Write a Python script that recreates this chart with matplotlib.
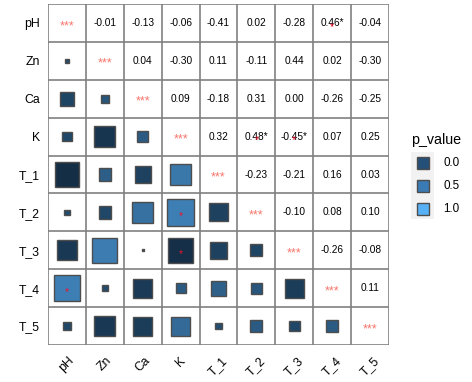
import numpy as np
import matplotlib.pyplot as plt
from matplotlib.colors import LinearSegmentedColormap
from matplotlib.patches import Rectangle

plt.rcParams['font.family'] = ['Liberation Sans', 'DejaVu Sans']

labels = ["pH", "Zn", "Ca", "K", "T_1", "T_2", "T_3", "T_4", "T_5"]

# correlation, upper triangle by row (pairs i<j)
r_upper = [
    [-0.01, -0.13, -0.06, -0.41, 0.02, -0.28, 0.46, -0.04],
    [0.04, -0.30, 0.11, -0.11, 0.44, 0.02, -0.30],
    [0.09, -0.18, 0.31, 0.003, -0.26, -0.25],
    [0.32, 0.48, -0.45, 0.07, 0.25],
    [-0.23, -0.21, 0.16, 0.03],
    [-0.10, 0.08, 0.10],
    [-0.26, -0.08],
    [0.11],
]

# p values shown as fill in the lower triangle (row i, cols j<i)
p_lower = [
    [0.25],
    [0.20, 0.33],
    [0.22, 0.08, 0.38],
    [0.02, 0.40, 0.17, 0.60],
    [0.25, 0.22, 0.55, 0.65, 0.17],
    [0.10, 0.63, 0.30, 0.03, 0.17, 0.20],
    [0.65, 0.25, 0.12, 0.38, 0.42, 0.33, 0.14],
    [0.23, 0.10, 0.14, 0.50, 0.27, 0.38, 0.22, 0.38],
]

signif = [("pH", "T_4"), ("K", "T_2"), ("K", "T_3")]
legend_ticks = [0.0, 0.5, 1.0]
legend_colors = ["#244F78", "#3B7BB5", "#56B1F7"]

n = len(labels)
r = np.zeros((n, n))
for i, row in enumerate(r_upper):
    for k, v in enumerate(row):
        j = i + 1 + k
        r[i, j] = v
        r[j, i] = v

cmap = LinearSegmentedColormap.from_list(
    "gg", ["#132B43", "#224B6D", "#336A98", "#448DC6", "#56B1F7"])

W, H = 472, 382
fig = plt.figure(figsize=(W / 100, H / 100), dpi=100)
ax = fig.add_axes([48 / W, (H - 345) / H, 341 / W, 341 / H])
ax.set_xlim(0, n)
ax.set_ylim(n, 0)
for s in ax.spines.values():
    s.set_visible(False)

# grid
for k in range(n + 1):
    ax.axhline(k, color="#808080", lw=1.2, zorder=1)
    ax.axvline(k, color="#808080", lw=1.2, zorder=1)

sig_idx = set()
for a, b in signif:
    i, j = labels.index(a), labels.index(b)
    sig_idx.add((i, j))
    sig_idx.add((j, i))

for i in range(n):
    for j in range(n):
        cx, cy = j + 0.5, i + 0.5
        if i == j:
            ax.text(cx, cy + 0.08, "***", color="#F8766D", fontsize=9,
                    ha="center", va="center", zorder=3)
        elif j > i:
            txt = "%.2f" % r[i, j]
            if (i, j) in sig_idx:
                txt += "*"
            ax.text(cx, cy, txt, color="black", fontsize=7.3,
                    ha="center", va="center", zorder=3)
        else:
            side = np.sqrt(abs(r[i, j]))
            ax.add_patch(Rectangle((cx - side / 2, cy - side / 2), side, side,
                                   facecolor=cmap(p_lower[i - 1][j]),
                                   edgecolor="#4D4D4D", lw=1, zorder=2))
        if (i, j) in sig_idx:
            ax.text(cx, cy + 0.1, "*", color="#F0102A", fontsize=7.5,
                    ha="center", va="center", zorder=4)

ax.set_xticks(np.arange(n) + 0.5)
ax.set_xticklabels(labels, rotation=45, ha="center", va="top", fontsize=8.8)
ax.set_yticks(np.arange(n) + 0.5)
ax.set_yticklabels(labels, fontsize=8.8)
ax.tick_params(length=0)
ax.tick_params(axis="x", pad=7)
ax.tick_params(axis="y", pad=6)

# legend
lax = fig.add_axes([0, 0, 1, 1])
lax.set_xlim(0, W)
lax.set_ylim(H, 0)
lax.axis("off")
lax.text(411, 140, "p_value", fontsize=10.3, ha="left", va="center")
lax.add_patch(Rectangle((411, 152), 23, 67, facecolor="#F2F2F2", lw=0))
for k, t in enumerate(legend_ticks):
    yc = 163 + k * 23
    lax.add_patch(Rectangle((417, yc - 6), 12, 12, facecolor=legend_colors[k],
                            edgecolor="#4D4D4D", lw=1))
    lax.text(443, yc, "%.1f" % t, fontsize=8.4, ha="left", va="center")

fig.savefig("out.png", dpi=100)
